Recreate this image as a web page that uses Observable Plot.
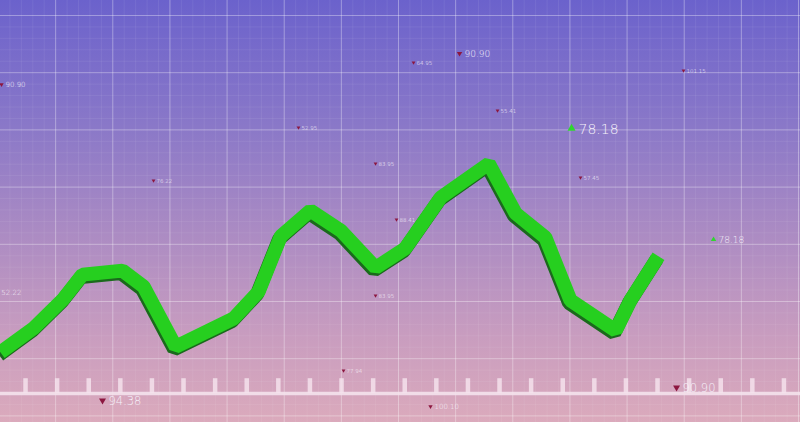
<!DOCTYPE html>
<html><head><meta charset="utf-8">
<script src="https://cdn.jsdelivr.net/npm/d3@7"></script>
<script src="https://cdn.jsdelivr.net/npm/@observablehq/plot@0.6"></script>
<style>html,body{margin:0;padding:0;background:#fff}#chart svg{display:block}</style>
</head><body><div id="chart"></div>
<script>
// Green price line (time units, price units)
const lineT = [0.035, 0.61, 1.14, 1.47, 2.17, 2.54, 3.10, 4.11, 4.55, 4.94, 5.46, 5.99, 6.60, 7.12, 7.74, 8.58, 9.05, 9.57, 10.01, 10.80, 11.06, 11.55];
const lineV = [41.1, 45.3, 50.5, 54.7, 55.4, 52.6, 42.1, 47.0, 51.7, 61.4, 65.9, 62.4, 55.9, 59.3, 68.2, 74.1, 65.4, 61.2, 50.2, 44.9, 50.2, 57.9];

// Floating quote labels
const labelText = ["90.90", "52.95", "76.22", "83.95", "52.22", "83.95", "77.94", "94.38", "100.10", "90.90", "78.18", "78.18", "90.90", "64.95", "55.41", "101.15", "57.45", "88.41"];
const labelT    = [0.053, 5.25, 2.713, 6.598, -0.02, 6.598, 6.038, 1.82, 7.56, 11.866, 12.513, 10.028, 8.068, 7.263, 8.733, 11.988, 10.185, 6.965];
const labelV    = [87.94, 80.42, 71.15, 74.13, 51.57, 51.05, 37.94, 32.69, 31.64, 34.97, 60.84, 80.24, 93.36, 91.78, 83.39, 90.38, 71.68, 64.34];
const labelDir  = ["down", "down", "down", "down", "down", "down", "down", "down", "down", "down", "up", "up", "down", "down", "down", "down", "down", "down"];
const labelKind = ["small", "tiny", "tiny", "tiny", "small", "tiny", "tiny", "big", "small", "big", "mid", "huge", "mid", "tiny", "tiny", "tiny", "tiny", "tiny"];

// Axis furniture
const baselineV = 33.9;
const tickTopV = 36.5;
const tickT = [0.473, 1.026, 1.579, 2.132, 2.685, 3.238, 3.791, 4.344, 4.897, 5.450, 6.003, 6.556, 7.109, 7.662, 8.215, 8.768, 9.321, 9.874, 10.427, 10.980, 11.533, 12.086, 12.639, 13.192, 13.745];
const majorT = [1, 2, 3, 4, 5, 6, 7, 8, 9, 10, 11, 12, 13, 14];
const majorV = [30, 40, 50, 60, 70, 80, 90, 100];

const minorT = d3.range(0, 14.01, 0.2);
const minorV = d3.range(30, 100.01, 2);

const line = lineT.map((t, i) => ({t, v: lineV[i]}));
const labels = labelText.map((text, i) => ({text, t: labelT[i], v: labelV[i], dir: labelDir[i], kind: labelKind[i]}));

const kinds = {
  tiny:  {fs: 5.5, r: 1.4, dx: 3},
  small: {fs: 7,   r: 1.6, dx: 4},
  mid:   {fs: 9,   r: 2.0, dx: 5},
  big:   {fs: 11.5,r: 2.6, dx: 6},
  huge:  {fs: 14,  r: 3.0, dx: 7}
};

const labelMarks = [];
for (const [k, s] of Object.entries(kinds)) {
  const sub = labels.filter(d => d.kind === k);
  labelMarks.push(
    Plot.dot(sub.filter(d => d.dir === "down"), {x: "t", y: "v", symbol: "triangle", rotate: 180, r: s.r, fill: "#8c1740", stroke: "none"}),
    Plot.dot(sub.filter(d => d.dir === "up"), {x: "t", y: "v", symbol: "triangle", r: s.r, fill: "#2fd62f", stroke: "none"}),
    Plot.text(sub, {x: "t", y: "v", text: "text", textAnchor: "start", dx: s.dx, fontSize: s.fs, fill: "#f6f1fa", fontFamily: "DejaVu Sans", fontWeight: 300, dy: 0.5})
  );
}

const chart = Plot.plot({
  width: 800,
  height: 422,
  margin: 0,
  x: {domain: [0, 14], range: [-2, 798], axis: null},
  y: {domain: [30, 100], range: [415.4, 15], axis: null},
  style: {background: "linear-gradient(180deg, #6b62cc 0%, #8a78c8 30%, #ab8bc3 55%, #c99dbf 80%, #dbaabc 100%)", overflow: "hidden"},
  marks: [
    Plot.gridX(minorT, {stroke: "#ffffff", strokeOpacity: 0.07, strokeWidth: 1}),
    Plot.gridY(minorV, {stroke: "#ffffff", strokeOpacity: 0.07, strokeWidth: 1}),
    Plot.gridX(majorT, {stroke: "#ffffff", strokeOpacity: 0.3, strokeWidth: 1}),
    Plot.gridY(majorV, {stroke: "#ffffff", strokeOpacity: 0.3, strokeWidth: 1}),
    Plot.ruleX(tickT, {y1: baselineV, y2: tickTopV, stroke: "#f4e2ec", strokeWidth: 4.5, strokeOpacity: 0.85}),
    Plot.ruleY([baselineV], {stroke: "#f4e2ec", strokeWidth: 3.5, strokeOpacity: 0.9}),
    ...labelMarks,
    Plot.line(line, {x: "t", y: "v", stroke: "#1a6a1c", strokeWidth: 14, strokeLinejoin: "miter", strokeLinecap: "butt", dx: -1.5, dy: 2.5}),
    Plot.line(line, {x: "t", y: "v", stroke: "#26cf1f", strokeWidth: 14, strokeLinejoin: "miter", strokeLinecap: "butt"})
  ]
});
document.getElementById("chart").append(chart);
</script>
</body></html>
